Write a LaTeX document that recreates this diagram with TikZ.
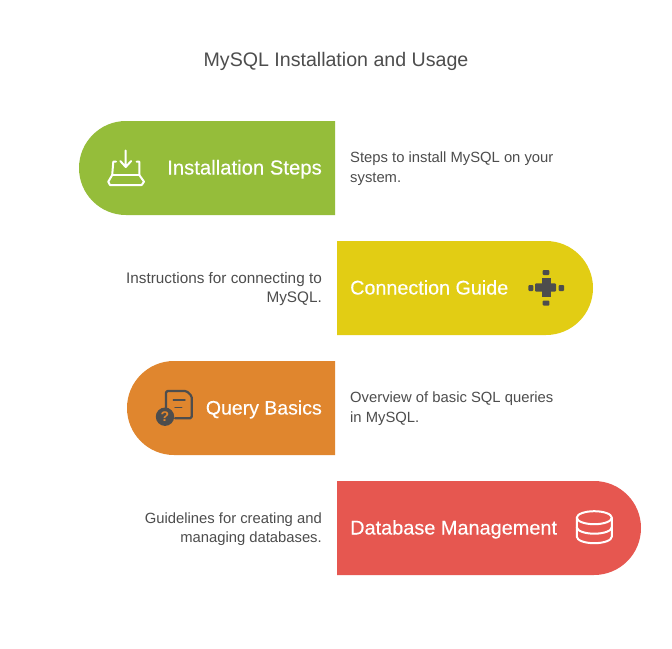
\documentclass[tikz,border=0pt]{standalone}
\usepackage{fontspec}
\setmainfont{Liberation Sans}
\newfontfamily\medfont[FakeBold=0.25]{Liberation Sans}
\definecolor{cgreen}{HTML}{95BD3A}
\definecolor{cyellow}{HTML}{E2CD14}
\definecolor{corange}{HTML}{E0862E}
\definecolor{cred}{HTML}{E65750}
\definecolor{ctext}{HTML}{4D4D4D}
\definecolor{cicon}{HTML}{4D4D4D}
\tikzset{
  x=1pt,y=-1pt,
  titletext/.style={inner sep=0,text=ctext,font=\fontsize{19.6}{24}\selectfont},
  labeltext/.style={inner sep=0,text=white,font=\medfont\fontsize{#1}{24}\selectfont},
  labeltext/.default=20,
  desctext/.style={inner sep=0,text=ctext,font=\fontsize{#1}{19.5}\selectfont},
  desctext/.default=14.8,
  lineicon/.style={draw=white,line width=2pt,line join=round,line cap=round},
  darkicon/.style={draw=cicon,line width=2.2pt,line join=round,line cap=round},
}
\begin{document}
\begin{tikzpicture}
\useasboundingbox[fill=white] (0,0) rectangle (672,648);
% bands
\fill[cgreen] (335,121) -- (126,121) arc[start angle=90,end angle=270,radius=47pt] -- (335,215) -- cycle;
\fill[cyellow] (337,241) -- (546,241) arc[start angle=90,end angle=-90,radius=47pt] -- (337,335) -- cycle;
\fill[corange] (335,361) -- (174,361) arc[start angle=90,end angle=270,radius=47pt] -- (335,455) -- cycle;
\fill[cred] (337,481) -- (594,481) arc[start angle=90,end angle=-90,radius=47pt] -- (337,575) -- cycle;
% title
\node[titletext] (title) at (336,61) {MySQL Installation and Usage};
% labels
\node[labeltext=20.3,anchor=base east] (l1) at (322,174.5) {Installation Steps};
\node[labeltext=19.75,anchor=base west] (l2) at (350,294.5) {Connection Guide};
\node[labeltext=19.5,anchor=base east] (l3) at (322,414.5) {Query Basics};
\node[labeltext=19.9,anchor=base west] (l4) at (350,534.5) {Database Management};
% descriptions
\node[desctext,anchor=west,align=left] (d1) at (350,168.5) {Steps to install MySQL on your\\system.};
\node[desctext=15.3,anchor=east,align=right] (d2) at (322,289) {Instructions for connecting to\\MySQL.};
\node[desctext,anchor=west,align=left] (d3) at (350,408.5) {Overview of basic SQL queries\\in MySQL.};
\node[desctext,anchor=east,align=right] (d4) at (322,529) {Guidelines for creating and\\managing databases.};
% icon 1
\draw[lineicon] (125.7,150.5) -- (125.7,167) (120.3,161) -- (125.7,167) -- (131.2,161);
\draw[lineicon] (116,161.7) -- (113.3,161.7) -- (112.2,175) -- (108.3,181.7) -- (110,185) -- (141.7,185) -- (144,181.7) -- (139.3,175) -- (139.3,161.7) -- (136.7,161.7);
\draw[lineicon] (112.2,175) -- (139.3,175);
% icon 2
\fill[cicon] (541.7,278) rectangle (550.7,297.3);
\fill[cicon,rounded corners=1pt] (535,283.3) rectangle (556,291.7);
\fill[cicon,rounded corners=1pt] (542.7,270) rectangle (549.3,275);
\fill[cicon,rounded corners=1pt] (542.7,300.5) rectangle (549.3,305.7);
\fill[cicon,rounded corners=1pt] (528.3,285) rectangle (533.3,291);
\fill[cicon,rounded corners=1pt] (558.7,285) rectangle (564,291);
% icon 3
\draw[darkicon,rounded corners=1.5pt] (166,408) -- (166,391) -- (186.5,391) -- (191.7,396) -- (191.7,418.3) -- (175,418.3);
\draw[darkicon,line width=1.4pt] (173.3,400) -- (185,400) (175,407.3) -- (181.7,407.3);
\fill[cicon] (165,416.7) circle[radius=9.2pt];
\node[inner sep=0,text=corange,font=\fontsize{14}{14}\bfseries\selectfont] (q) at (165,416.7) {?};
% icon 4
\draw[lineicon] (594.3,517.7) ellipse[x radius=17.5pt,y radius=6.5pt];
\draw[lineicon] (576.8,517.7) -- (576.8,536.7) arc[start angle=180,end angle=360,x radius=17.5pt,y radius=6.5pt] -- (611.8,517.7);
\draw[lineicon] (576.8,527.2) arc[start angle=180,end angle=360,x radius=17.5pt,y radius=6.5pt];
\end{tikzpicture}
\end{document}
